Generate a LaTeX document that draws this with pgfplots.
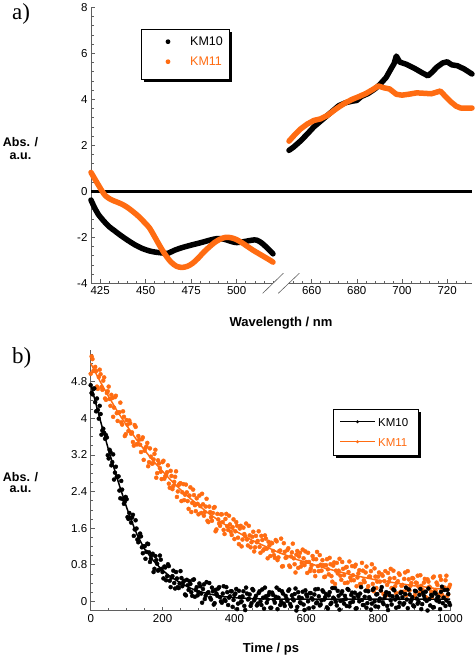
\documentclass[border=0pt]{standalone}
\usepackage{fontspec}
\setmainfont{Liberation Sans}
\newfontfamily\panelfont{Liberation Serif}
\usepackage{pgfplots}
\pgfplotsset{compat=1.18}

\definecolor{kmorange}{RGB}{255,108,18}
\definecolor{axisgray}{RGB}{95,95,95}

\pgfplotsset{
  panel/.style={
    scale only axis, clip=false,
    axis line style={axisgray, line width=0.6pt},
    tick style={axisgray, line width=0.5pt},
    major tick length=4pt, minor tick length=2.5pt,
    tick label style={font=\fontsize{11.5}{12}\selectfont},
    /pgf/number format/assume math mode=true,
    /pgf/number format/1000 sep={},
  },
  dots/.style={only marks, mark=*, mark size=2pt, #1, mark options={draw=none, fill=#1}, forget plot},
}

\begin{document}
\begin{tikzpicture}
\path[use as bounding box] (0pt,0pt) rectangle (474pt,656pt);

% ---------------- a) transient spectra, left part of the broken axis
\begin{axis}[panel,
  at={(91pt,372.7pt)}, anchor=south west,
  width=182pt, height=276pt,
  xmin=420, xmax=520, ymin=-4, ymax=8,
  axis x line*=bottom, axis y line*=left, tick align=inside,
  xtick={425,450,475,500}, minor xtick={420,425,...,520},
  ytick={-4,-2,0,2,4,6,8}, minor ytick={-4,-3.6,...,8},
]
\addplot[line width=2.6pt, forget plot] coordinates {(420,0) (528.8,0)};
\addplot[black, line width=5.5pt, line join=round, line cap=round, smooth, forget plot] coordinates {
(420,-0.38) (422,-0.72) (424,-1.00) (426,-1.20) (428,-1.38) (430,-1.54) (433,-1.72)
(436,-1.90) (440,-2.12) (444,-2.32) (448,-2.48) (452,-2.59) (455,-2.64) (459,-2.68)
(462,-2.70) (466,-2.56) (470,-2.45) (475,-2.34) (480,-2.24) (485,-2.13) (489,-2.06)
(493,-2.08) (497,-2.18) (500,-2.23) (504,-2.19) (508,-2.13) (511,-2.12) (514,-2.26)
(517,-2.48) (520,-2.72)};
\addplot[kmorange, line width=5.5pt, line join=round, line cap=round, smooth, forget plot] coordinates {
(420,0.82) (422,0.55) (424,0.28) (426,0.02) (428,-0.20) (431,-0.36) (434,-0.46)
(437,-0.56) (440,-0.70) (443,-0.88) (446,-1.08) (449,-1.32) (452,-1.58) (455,-1.98)
(458,-2.40) (461,-2.78) (464,-3.08) (467,-3.26) (470,-3.31) (473,-3.26) (476,-3.12)
(479,-2.90) (482,-2.64) (485,-2.42) (488,-2.22) (491,-2.08) (494,-2.00) (497,-2.02)
(500,-2.10) (503,-2.24) (506,-2.40) (509,-2.56) (512,-2.70) (515,-2.84) (518,-2.98)
(520,-3.08)};
\end{axis}

% ---------------- a) right part of the broken axis
\begin{axis}[panel,
  at={(289pt,372.7pt)}, anchor=south west,
  width=183pt, height=276pt,
  xmin=650, xmax=731, ymin=-4, ymax=8,
  axis x line*=bottom, axis y line=none, tick align=inside,
  xtick={660,680,700,720}, minor xtick={652,656,...,728},
]
\addplot[line width=2.6pt, forget plot] coordinates {(650,0) (731,0)};
\addplot[black, line width=5.5pt, line join=round, line cap=round] coordinates {
(650,1.78) (652,1.92) (655,2.18) (658,2.48) (661,2.80) (664,3.05) (667,3.30) (670,3.55)
(672,3.72) (675,3.85) (678,3.92) (680,3.95) (682,4.12) (685,4.25) (688,4.45) (690,4.62)
(693,4.95) (695,5.30) (696.5,5.55) (697.5,5.88) (699,5.62) (702,5.52) (706,5.32)
(709,5.15) (711.5,5.02) (713,5.15) (715.5,5.40) (718,5.58) (720,5.63) (722,5.50)
(724.5,5.46) (727.5,5.32) (731,5.10)};
\addplot[kmorange, line width=5.5pt, line join=round, line cap=round] coordinates {
(650,2.18) (652,2.40) (655,2.70) (658,2.92) (661,3.08) (664,3.15) (667,3.30) (670,3.52)
(672,3.66) (675,3.85) (678,4.00) (681,4.12) (684,4.25) (687,4.42) (689.5,4.58) (692,4.50)
(694.5,4.45) (697.5,4.22) (700,4.18) (703,4.22) (706.5,4.28) (710,4.26) (713,4.24)
(717,4.36) (719,4.15) (721.5,3.90) (724,3.70) (726,3.62) (731,3.62)};
\end{axis}

% axis break marks
\draw[axisgray, line width=0.6pt] (262.7pt,362.7pt) -- (283.3pt,382.7pt);
\draw[axisgray, line width=0.6pt] (278.3pt,362.7pt) -- (299.3pt,382.7pt);

% legend of panel a (boxed, with a solid drop shadow)
\fill[black] (144.2pt,574.2pt) rectangle (231.8pt,623.5pt);
\draw[black, line width=1pt, fill=white] (141.7pt,576.7pt) rectangle (229.3pt,626pt);
\fill[black] (168pt,614.3pt) circle (2.4pt);
\fill[kmorange] (168pt,594.3pt) circle (2.4pt);
\node[anchor=base west, inner sep=0pt, font=\fontsize{12.5}{14}\selectfont] at (190pt,610pt) {KM10};
\node[anchor=base west, inner sep=0pt, text=kmorange, font=\fontsize{12.5}{14}\selectfont] at (190pt,590pt) {KM11};

\node[anchor=base, font=\bfseries\fontsize{13}{15}\selectfont] at (281pt,329pt) {Wavelength / nm};
\node[anchor=base, font=\bfseries\fontsize{12.5}{14}\selectfont] at (20.5pt,509.3pt) {Abs. /};
\node[anchor=base, font=\bfseries\fontsize{12.5}{14}\selectfont] at (20.5pt,496pt) {a.u.};
\node[anchor=base west, inner sep=0pt, font=\panelfont\fontsize{23}{25}\selectfont] at (12pt,636pt) {a)};

% ---------------- b) kinetic traces
\begin{axis}[panel,
  at={(90.7pt,45.5pt)}, anchor=south west,
  width=359.3pt, height=261pt,
  xmin=0, xmax=1000, ymin=-0.2, ymax=5.5,
  axis x line*=bottom, axis y line*=left, tick align=inside,
  xtick={0,200,400,600,800,1000}, minor xtick={50,100,...,950},
  ytick={0,0.8,1.6,2.4,3.2,4,4.8}, minor ytick={-0.2,0,...,5.4},
]
% KM11 data, first set
\addplot[dots=kmorange] coordinates {
(0,4.97) (5,5.29) (10,5.03) (15,5.03) (20,4.64) (25,5.06) (30,4.68) (35,4.82) (40,4.43) (45,4.55)
(50,4.69) (55,4.27) (60,4.44) (65,4.23) (70,4.49) (75,3.94) (80,4.13) (85,3.91) (90,4.15) (95,3.61)
(100,3.96) (105,3.72) (110,3.89) (115,3.69) (120,3.40) (125,3.81) (130,3.43) (135,3.53) (140,3.26) (145,3.58)
(150,3.29) (155,3.38) (160,2.95) (165,3.34) (170,3.01) (175,3.10) (180,3.31) (185,2.80) (190,3.01) (195,2.83)
(200,3.04) (205,2.68) (210,2.76) (215,2.97) (220,2.48) (225,2.74) (230,2.52) (235,2.72) (240,2.28) (245,2.54)
(250,2.58) (255,2.38) (260,2.21) (265,2.55) (270,2.19) (275,2.31) (280,1.95) (285,2.44) (290,2.10) (295,2.25)
(300,1.90) (305,2.08) (310,2.35) (315,1.87) (320,2.07) (325,1.76) (330,2.07) (335,1.84) (340,1.93) (345,2.06)
(350,1.57) (355,1.79) (360,1.65) (365,1.90) (370,1.56) (375,1.80) (380,1.64) (385,1.87) (390,1.52) (395,1.62)
(400,1.36) (405,1.73) (410,1.39) (415,1.59) (420,1.20) (425,1.61) (430,1.42) (435,1.35) (440,1.65) (445,1.18)
(450,1.41) (455,1.09) (460,1.43) (465,1.32) (470,1.19) (475,1.43) (480,1.11) (485,1.44) (490,1.15) (495,1.30)
(500,0.99) (505,1.27) (510,1.01) (515,1.34) (520,0.90) (525,1.10) (530,1.37) (535,0.77) (540,1.08) (545,0.96)
(550,1.16) (555,0.75) (560,1.07) (565,0.94) (570,0.63) (575,1.10) (580,0.98) (585,0.76) (590,1.13) (595,0.79)
(600,0.86) (605,1.06) (610,0.66) (615,0.79) (620,0.92) (625,0.55) (630,1.08) (635,0.66) (640,0.80) (645,0.90)
(650,0.53) (655,0.79) (660,0.70) (665,0.95) (670,0.55) (675,0.78) (680,0.38) (685,0.84) (690,0.67) (695,0.56)
(700,0.86) (705,0.57) (710,0.74) (715,0.41) (720,0.87) (725,0.46) (730,0.57) (735,0.76) (740,0.33) (745,0.61)
(750,0.38) (755,0.84) (760,0.46) (765,0.63) (770,0.26) (775,0.54) (780,0.66) (785,0.38) (790,0.72) (795,0.29)
(800,0.54) (805,0.43) (810,0.59) (815,0.16) (820,0.66) (825,0.36) (830,0.43) (835,0.71) (840,0.28) (845,0.51)
(850,0.18) (855,0.44) (860,0.58) (865,0.34) (870,0.21) (875,0.63) (880,0.25) (885,0.48) (890,0.34) (895,0.51)
(900,0.10) (905,0.41) (910,0.56) (915,0.19) (920,0.34) (925,0.24) (930,0.49) (935,0.08) (940,0.43) (945,0.30)
(950,0.10) (955,0.54) (960,0.23) (965,0.36) (970,0.15) (975,0.47) (980,0.11) (985,0.30) (990,0.56) (995,0.15)
(1000,0.36)};
% KM11 data, second set
\addplot[dots=kmorange] coordinates {
(2.5,5.35) (7.5,5.03) (12.5,5.12) (17.5,4.69) (22.5,4.90) (27.5,4.96) (32.5,4.62) (37.5,4.89) (42.5,4.40) (47.5,4.59)
(52.5,4.42) (57.5,4.51) (62.5,4.03) (67.5,4.46) (72.5,4.11) (77.5,4.12) (82.5,4.34) (87.5,3.86) (92.5,4.03) (97.5,3.65)
(102.5,3.86) (107.5,3.95) (112.5,3.66) (117.5,3.48) (122.5,3.85) (127.5,3.43) (132.5,3.61) (137.5,3.42) (142.5,3.54) (147.5,3.09)
(152.5,3.35) (157.5,3.46) (162.5,3.04) (167.5,3.16) (172.5,3.01) (177.5,3.22) (182.5,2.70) (187.5,3.08) (192.5,2.91) (197.5,2.67)
(202.5,3.07) (207.5,2.73) (212.5,2.82) (217.5,2.57) (222.5,2.85) (227.5,2.45) (232.5,2.61) (237.5,2.84) (242.5,2.40) (247.5,2.57)
(252.5,2.19) (257.5,2.56) (262.5,2.33) (267.5,2.38) (272.5,2.02) (277.5,2.49) (282.5,2.15) (287.5,2.32) (292.5,1.97) (297.5,2.13)
(302.5,2.31) (307.5,1.93) (312.5,2.12) (317.5,1.95) (322.5,2.24) (327.5,1.73) (332.5,1.95) (337.5,1.76) (342.5,2.04) (347.5,1.53)
(352.5,1.91) (357.5,1.70) (362.5,1.90) (367.5,1.73) (372.5,1.47) (377.5,1.91) (382.5,1.56) (387.5,1.68) (392.5,1.45) (397.5,1.79)
(402.5,1.53) (407.5,1.65) (412.5,1.25) (417.5,1.65) (422.5,1.35) (427.5,1.47) (432.5,1.70) (437.5,1.22) (442.5,1.44) (447.5,1.29)
(452.5,1.52) (457.5,1.18) (462.5,1.29) (467.5,1.53) (472.5,1.06) (477.5,1.34) (482.5,1.14) (487.5,1.37) (492.5,0.94) (497.5,1.22)
(502.5,1.28) (507.5,1.10) (512.5,0.95) (517.5,1.31) (522.5,0.96) (527.5,1.11) (532.5,0.76) (537.5,1.27) (542.5,0.95) (547.5,1.12)
(552.5,0.78) (557.5,0.98) (562.5,1.26) (567.5,0.81) (572.5,1.02) (577.5,0.73) (582.5,1.06) (587.5,0.84) (592.5,0.94) (597.5,1.09)
(602.5,0.62) (607.5,0.86) (612.5,0.72) (617.5,0.99) (622.5,0.66) (627.5,0.92) (632.5,0.77) (637.5,1.01) (642.5,0.67) (647.5,0.79)
(652.5,0.54) (657.5,0.92) (662.5,0.59) (667.5,0.81) (672.5,0.43) (677.5,0.85) (682.5,0.67) (687.5,0.61) (692.5,0.93) (697.5,0.47)
(702.5,0.71) (707.5,0.40) (712.5,0.75) (717.5,0.64) (722.5,0.52) (727.5,0.77) (732.5,0.46) (737.5,0.80) (742.5,0.52) (747.5,0.68)
(752.5,0.38) (757.5,0.67) (762.5,0.42) (767.5,0.76) (772.5,0.33) (777.5,0.54) (782.5,0.81) (787.5,0.22) (792.5,0.54) (797.5,0.43)
(802.5,0.63) (807.5,0.23) (812.5,0.56) (817.5,0.44) (822.5,0.13) (827.5,0.62) (832.5,0.50) (837.5,0.29) (842.5,0.67) (847.5,0.33)
(852.5,0.41) (857.5,0.61) (862.5,0.21) (867.5,0.36) (872.5,0.49) (877.5,0.13) (882.5,0.66) (887.5,0.24) (892.5,0.40) (897.5,0.50)
(902.5,0.14) (907.5,0.40) (912.5,0.32) (917.5,0.57) (922.5,0.18) (927.5,0.41) (932.5,0.09) (937.5,0.48) (942.5,0.32) (947.5,0.21)
(952.5,0.52) (957.5,0.23) (962.5,0.41) (967.5,0.10) (972.5,0.55) (977.5,0.15) (982.5,0.26) (987.5,0.46) (992.5,0.12) (997.5,0.31)};
% KM11 decay fit
\addplot[kmorange, line width=1.5pt, forget plot] coordinates {
(0,5.20) (25,4.82) (50,4.47) (75,4.14) (100,3.84) (125,3.56) (150,3.30) (175,3.06) (200,2.84)
(225,2.63) (250,2.44) (275,2.26) (300,2.10) (325,1.94) (350,1.80) (375,1.67) (400,1.55) (425,1.44)
(450,1.33) (475,1.24) (500,1.15) (525,1.06) (550,0.99) (575,0.91) (600,0.85) (625,0.79) (650,0.73)
(675,0.68) (700,0.63) (725,0.58) (750,0.54) (775,0.50) (800,0.46) (825,0.43) (850,0.40) (875,0.37)
(900,0.34) (925,0.32) (950,0.29) (975,0.27) (1000,0.25)};
% KM10 data, first set
\addplot[dots=black] coordinates {
(0,4.72) (5,4.52) (10,4.65) (15,4.15) (20,4.18) (25,4.27) (30,3.64) (35,3.77) (40,3.55) (45,3.58)
(50,3.12) (55,3.26) (60,3.04) (65,2.66) (70,2.94) (75,2.72) (80,2.42) (85,2.63) (90,2.23) (95,2.18)
(100,2.23) (105,1.80) (110,1.82) (115,1.83) (120,1.43) (125,1.77) (130,1.35) (135,1.41) (140,1.42) (145,1.05)
(150,1.20) (155,1.08) (160,1.25) (165,0.86) (170,1.01) (175,0.64) (180,0.99) (185,0.82) (190,0.69) (195,0.91)
(200,0.64) (205,0.76) (210,0.46) (215,0.81) (220,0.45) (225,0.52) (230,0.67) (235,0.28) (240,0.50) (245,0.29)
(250,0.66) (255,0.33) (260,0.45) (265,0.13) (270,0.35) (275,0.44) (280,0.20) (285,0.47) (290,0.10) (295,0.31)
(300,0.20) (305,0.33) (310,-0.03) (315,0.37) (320,0.12) (325,0.18) (330,0.40) (335,0.04) (340,0.22) (345,-0.04)
(350,0.17) (355,0.28) (360,0.09) (365,-0.03) (370,0.33) (375,0.01) (380,0.20) (385,0.08) (390,0.22) (395,-0.12)
(400,0.14) (405,0.27) (410,-0.05) (415,0.09) (420,0.00) (425,0.22) (430,-0.19) (435,0.17) (440,0.06) (445,-0.10)
(450,0.27) (455,0.02) (460,0.12) (465,-0.05) (470,0.22) (475,-0.08) (480,0.08) (485,0.30) (490,-0.03) (495,0.14)
(500,-0.14) (505,0.19) (510,0.03) (515,0.10) (520,-0.17) (525,0.25) (530,-0.01) (535,0.17) (540,-0.10) (545,0.06)
(550,0.23) (555,-0.06) (560,0.13) (565,0.02) (570,0.28) (575,-0.12) (580,0.09) (585,-0.04) (590,0.21) (595,-0.19)
(600,0.15) (605,0.00) (610,0.18) (615,0.07) (620,-0.13) (625,0.26) (630,-0.02) (635,0.11) (640,-0.07) (645,0.24)
(650,0.04) (655,0.16) (660,-0.16) (665,0.20) (670,-0.03) (675,0.08) (680,0.29) (685,-0.09) (690,0.12) (695,0.01)
(700,0.22) (705,-0.05) (710,0.05) (715,0.27) (720,-0.11) (725,0.14) (730,-0.01) (735,0.19) (740,-0.15) (745,0.10)
(750,0.17) (755,0.03) (760,-0.08) (765,0.23) (770,-0.04) (775,0.09) (780,-0.18) (785,0.25) (790,0.00) (795,0.15)
(800,-0.12) (805,0.06) (810,0.31) (815,-0.06) (820,0.13) (825,-0.10) (830,0.18) (835,0.02) (840,0.11) (845,0.24)
(850,-0.14) (855,0.07) (860,-0.03) (865,0.20) (870,-0.07) (875,0.16) (880,0.04) (885,0.26) (890,-0.02) (895,0.09)
(900,-0.11) (905,0.22) (910,-0.05) (915,0.14) (920,-0.17) (925,0.19) (930,0.05) (935,0.01) (940,0.28) (945,-0.09)
(950,0.12) (955,-0.13) (960,0.17) (965,0.08) (970,-0.01) (975,0.21) (980,-0.04) (985,0.25) (990,0.02) (995,0.16)
(1000,-0.08)};
% KM10 data, second set
\addplot[dots=black] coordinates {
(2.5,4.55) (7.5,4.64) (12.5,4.35) (17.5,4.43) (22.5,3.99) (27.5,4.09) (32.5,3.73) (37.5,3.68) (42.5,3.63) (47.5,3.19)
(52.5,3.31) (57.5,2.97) (62.5,3.21) (67.5,2.81) (72.5,2.72) (77.5,2.73) (82.5,2.25) (87.5,2.44) (92.5,2.13) (97.5,2.28)
(102.5,1.84) (107.5,1.93) (112.5,1.72) (117.5,1.89) (122.5,1.57) (127.5,1.59) (132.5,1.29) (137.5,1.48) (142.5,1.18) (147.5,1.20)
(152.5,0.93) (157.5,1.26) (162.5,1.07) (167.5,0.93) (172.5,1.04) (177.5,0.71) (182.5,0.90) (187.5,0.67) (192.5,1.00) (197.5,0.71)
(202.5,0.50) (207.5,0.74) (212.5,0.55) (217.5,0.77) (222.5,0.31) (227.5,0.55) (232.5,0.40) (237.5,0.64) (242.5,0.31) (247.5,0.39)
(252.5,0.51) (257.5,0.42) (262.5,0.15) (267.5,0.47) (272.5,0.25) (277.5,0.38) (282.5,0.12) (287.5,0.48) (292.5,0.25) (297.5,0.13)
(302.5,0.39) (307.5,0.17) (312.5,0.27) (317.5,0.05) (322.5,0.42) (327.5,0.20) (332.5,0.08) (337.5,0.30) (342.5,-0.07) (347.5,0.25)
(352.5,0.12) (357.5,0.31) (362.5,0.00) (367.5,0.17) (372.5,0.04) (377.5,0.31) (382.5,-0.08) (387.5,0.11) (392.5,0.22) (397.5,0.03)
(402.5,0.17) (407.5,-0.17) (412.5,0.23) (417.5,-0.02) (422.5,0.11) (427.5,-0.10) (432.5,0.30) (437.5,0.04) (442.5,0.15) (447.5,-0.04)
(452.5,0.24) (457.5,0.07) (462.5,-0.09) (467.5,0.18) (472.5,0.00) (477.5,0.26) (482.5,-0.16) (487.5,0.11) (492.5,0.04) (497.5,0.20)
(502.5,-0.14) (507.5,0.14) (512.5,-0.03) (517.5,0.30) (522.5,0.08) (527.5,-0.08) (532.5,0.22) (537.5,-0.05) (542.5,0.12) (547.5,0.01)
(552.5,0.26) (557.5,-0.11) (562.5,0.05) (567.5,0.16) (572.5,-0.20) (577.5,0.20) (582.5,-0.02) (587.5,0.07) (592.5,-0.07) (597.5,0.24)
(602.5,0.11) (607.5,-0.15) (612.5,0.18) (617.5,0.04) (622.5,0.15) (627.5,-0.04) (632.5,0.27) (637.5,-0.09) (642.5,0.02) (647.5,0.21)
(652.5,0.09) (657.5,-0.13) (662.5,0.13) (667.5,-0.06) (672.5,0.29) (677.5,0.06) (682.5,-0.01) (687.5,0.23) (692.5,-0.18) (697.5,0.17)
(702.5,0.03) (707.5,0.12) (712.5,-0.10) (717.5,0.25) (722.5,-0.03) (727.5,0.19) (732.5,0.08) (737.5,-0.16) (742.5,0.14) (747.5,0.00)
(752.5,0.31) (757.5,-0.08) (762.5,0.10) (767.5,-0.14) (772.5,0.22) (777.5,0.05) (782.5,-0.05) (787.5,0.28) (792.5,-0.11) (797.5,0.16)
(802.5,0.01) (807.5,0.24) (812.5,-0.02) (817.5,0.07) (822.5,0.20) (827.5,-0.19) (832.5,0.13) (837.5,-0.07) (842.5,0.26) (847.5,0.04)
(852.5,0.11) (857.5,-0.12) (862.5,0.18) (867.5,0.09) (872.5,-0.04) (877.5,0.30) (882.5,-0.15) (887.5,0.15) (892.5,0.03) (897.5,-0.09)
(902.5,0.23) (907.5,0.06) (912.5,-0.01) (917.5,0.27) (922.5,-0.06) (927.5,0.12) (932.5,0.21) (937.5,-0.20) (942.5,0.05) (947.5,0.14)
(952.5,-0.13) (957.5,0.19) (962.5,0.02) (967.5,0.10) (972.5,-0.17) (977.5,0.32) (982.5,0.08) (987.5,-0.10) (992.5,0.25) (997.5,-0.03)};
% KM10 decay fit
\addplot[black, line width=1.5pt, forget plot] coordinates {
(0,4.75) (10,4.45) (20,4.15) (30,3.86) (40,3.58) (50,3.30) (60,3.04) (70,2.78) (80,2.53) (90,2.29)
(100,2.05) (110,1.84) (120,1.63) (130,1.44) (140,1.29) (150,1.14) (160,1.04) (170,0.93) (180,0.84)
(190,0.76) (200,0.68) (220,0.55) (240,0.45) (260,0.36) (280,0.28) (300,0.22) (325,0.17) (350,0.13)
(375,0.10) (400,0.08) (450,0.06) (500,0.05) (600,0.05) (800,0.05) (1000,0.05)};
\end{axis}

% legend of panel b (boxed, with a solid drop shadow)
\fill[black] (335.8pt,197.5pt) rectangle (420.8pt,243.5pt);
\draw[black, line width=1pt, fill=white] (333.3pt,200pt) rectangle (418.3pt,246pt);
\draw[black, line width=1.3pt] (340pt,234.3pt) -- (375pt,234.3pt);
\fill[black] (357.5pt,234.3pt) circle (1.6pt);
\draw[kmorange, line width=1.3pt] (340pt,214.3pt) -- (375pt,214.3pt);
\fill[kmorange] (357.5pt,214.3pt) circle (1.6pt);
\node[anchor=base west, inner sep=0pt, font=\fontsize{11.5}{13}\selectfont] at (378pt,229.3pt) {KM10};
\node[anchor=base west, inner sep=0pt, text=kmorange, font=\fontsize{11.5}{13}\selectfont] at (378pt,209.3pt) {KM11};

\node[anchor=base, font=\bfseries\fontsize{13}{15}\selectfont] at (271pt,4pt) {Time / ps};
\node[anchor=base, font=\bfseries\fontsize{12.5}{14}\selectfont] at (20.5pt,174.3pt) {Abs. /};
\node[anchor=base, font=\bfseries\fontsize{12.5}{14}\selectfont] at (20.5pt,163pt) {a.u.};
\node[anchor=base west, inner sep=0pt, font=\panelfont\fontsize{23}{25}\selectfont] at (12pt,292.7pt) {b)};
\end{tikzpicture}
\end{document}
